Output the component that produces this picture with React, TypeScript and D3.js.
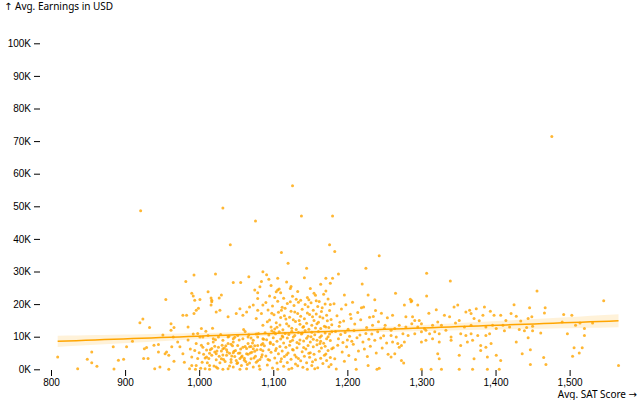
import * as d3 from 'd3';
import { useEffect, useRef } from 'react';

// [avg SAT score, avg earnings in thousand USD]
const lowSat: [number, number][] = [
  [809, 3.8], [836, 0.2], [849, 3.1], [855, 5.3], [855, 2.0], [862, 0.9], [884, 6.9], [885, 0.1],
  [891, 2.8], [898, 3.1], [902, 6.9], [910, 8.6], [920, 14.3], [924, 15.4], [933, 12.8], [926, 6.3],
  [929, 6.7], [925, 3.3], [931, 3.3], [939, 7.4], [945, 7.6], [945, 5.3], [951, 10.5], [954, 4.8],
  [956, 5.3], [959, 4.3], [962, 14.0], [962, 12.0], [965, 9.9], [963, 6.9], [966, 2.5], [947, 0.7],
  [940, 0.2], [959, 0.0], [955, 21.4], [966, 12.8], [971, 8.4], [974, 6.9], [978, 16.6], [983, 16.6],
  [985, 13.0], [990, 23.3], [992, 22.5], [994, 21.2], [1001, 21.4], [993, 17.1], [996, 18.1],
  [999, 18.7], [978, 4.8], [980, 2.2], [990, 3.8], [994, 5.8], [996, 7.9], [998, 11.0], [1001, 9.9],
  [1003, 7.4], [998, 3.3], [996, 1.2], [990, 1.2], [985, 9.0], [988, 6.2], [992, 10.8], [1000, 5.1],
  [1003, 12.5], [1004, 2.2], [1002, 0.3], [987, 0.2], [995, 0.0],
  [921, 48.6], [982, 26.9], [993, 28.9],
];

const nearThousand: [number, number][] = [
  [1017, 20.7], [1016, 19.7],
  [1023, 17.6], [1028, 18.1], [1014, 4.9], [1021, 7.1], [1032, 4.4], [1039, 16.1], [1043, 7.7],
  [1050, 17.1], [1055, 18.6], [1059, 16.6], [1064, 17.6], [1068, 19.1], [1073, 19.7], [1079, 18.1],
  [1084, 17.1], [1086, 19.7], [1077, 15.6], [1070, 7.0], [1064, 6.4], [1055, 3.3], [1046, 5.1],
  [1037, 6.0], [1030, 5.6], [1023, 2.9], [1017, 6.4], [1010, 5.9], [1008, 3.5], [1014, 1.2],
  [1021, 5.3], [1028, 2.0], [1034, 6.5], [1041, 1.0], [1048, 3.9], [1055, 5.0], [1061, 2.8],
  [1068, 1.9], [1075, 5.5], [1082, 3.0], [1086, 13.5],
  [1005, 6.8], [1012, 7.9], [1019, 8.4], [1026, 6.8], [1032, 6.3],
  [1039, 7.9], [1046, 8.4], [1052, 7.3], [1059, 6.8], [1066, 7.9], [1073, 6.3], [1079, 7.3], [1086, 7.9],
  [1010, 3.8], [1017, 4.3], [1023, 4.8], [1030, 3.2], [1037, 4.3], [1043, 2.2],
  [1050, 2.7], [1057, 3.8], [1064, 4.8], [1070, 3.2], [1077, 2.2], [1084, 3.8],
  [1008, 0.2], [1014, 0.0], [1023, 0.7],
  [1032, 0.0], [1039, 0.2], [1046, 0.7], [1055, 0.0], [1064, 0.2], [1073, 0.7], [1082, 0.0],
  [1005, 9.9], [1012, 10.4], [1019, 9.4], [1026, 9.9], [1032, 8.9], [1039, 9.9], [1046, 9.4],
  [1052, 10.4], [1059, 9.4], [1066, 9.9], [1073, 8.9], [1079, 9.9], [1086, 9.4],
  [1041, 4.9], [1044, 4.1], [1047, 5.5], [1049, 5.8], [1052, 2.0], [1054, 9.0], [1056, 6.2],
  [1058, 4.1], [1060, 12.2], [1062, 7.0], [1063, 2.3], [1065, 1.5], [1067, 10.6], [1069, 5.0],
  [1071, 5.2], [1072, 8.1], [1074, 3.5], [1076, 4.0], [1078, 6.0], [1080, 11.0], [1081, 1.0],
  [1083, 6.1], [1085, 4.5], [1087, 9.2], [1045, 7.2], [1051, 1.8], [1057, 1.2], [1061, 3.4],
  [1066, 4.6], [1070, 9.6], [1075, 7.2], [1079, 2.6], [1084, 7.5], [1043, 3.0], [1053, 4.9],
  [1068, 6.9], [1077, 10.8], [1086, 5.7], [1048, 9.8], [1062, 11.6],
  [1006, 4.6], [1009, 11.7], [1011, 2.0], [1013, 3.3], [1015, 6.0],
  [1018, 12.6], [1020, 1.0], [1022, 9.1], [1024, 5.6], [1027, 4.0], [1029, 10.7], [1031, 7.4],
  [1033, 3.0], [1035, 2.4], [1036, 7.2], [1038, 5.3], [1040, 10.1], [1025, 0.3],
  [1012, 23.8], [1016, 21.9], [1017, 21.2], [1022, 29.2], [1027, 21.9], [1030, 22.8],
  [1042, 38.2], [1046, 26.6], [1056, 26.6], [1067, 28.4], [1075, 24.3], [1079, 23.5], [1082, 25.3],
  [1084, 26.9], [1086, 29.9], [1079, 21.7], [1032, 49.5], [1076, 45.5],
];

const denseMiddle: [number, number][] = [
  [1090, 20.5], [1093, 18.2], [1095, 15.1], [1097, 13.0], [1099, 19.4], [1101, 16.7], [1102, 12.4],
  [1104, 14.3], [1106, 20.9], [1107, 17.5], [1109, 13.6], [1110, 15.9], [1112, 19.0], [1113, 12.1],
  [1115, 16.4], [1116, 18.7], [1118, 14.0], [1119, 20.2], [1121, 13.3], [1122, 16.0], [1124, 17.8],
  [1125, 12.6], [1127, 15.2], [1128, 19.6], [1130, 14.7], [1131, 12.2], [1133, 17.1], [1134, 20.6],
  [1136, 13.8], [1137, 16.3], [1139, 18.4], [1140, 12.9], [1142, 15.5], [1143, 19.9], [1145, 14.1],
  [1146, 17.3], [1148, 12.3], [1149, 16.8], [1151, 20.4], [1152, 13.5], [1154, 18.1], [1155, 15.0],
  [1157, 12.7], [1158, 17.0], [1160, 19.3], [1161, 14.4], [1163, 16.1], [1164, 12.5], [1166, 18.9],
  [1167, 15.7], [1169, 13.2], [1170, 20.0], [1172, 16.6], [1173, 14.9], [1175, 12.8], [1176, 18.0],
  [1178, 15.3], [1179, 13.7], [1092, 14.6], [1098, 17.2], [1105, 12.9], [1111, 18.1], [1117, 15.4],
  [1123, 20.7], [1129, 17.6], [1135, 15.0], [1141, 13.1], [1147, 19.2], [1153, 16.1], [1159, 14.0],
  [1165, 17.7], [1171, 13.0], [1177, 19.9],
  [1089, 11.2], [1091, 9.1], [1094, 10.5], [1096, 8.3], [1098, 11.8], [1100, 9.7], [1103, 10.9],
  [1105, 8.6], [1108, 11.5], [1110, 9.3], [1112, 10.2], [1114, 8.1], [1116, 11.0], [1119, 9.6],
  [1121, 10.7], [1123, 8.5], [1125, 11.7], [1127, 9.9], [1129, 10.4], [1132, 8.2], [1134, 11.3],
  [1136, 9.0], [1138, 10.8], [1141, 8.7], [1143, 11.9], [1145, 9.5], [1147, 10.1], [1150, 8.4],
  [1152, 11.4], [1154, 9.2], [1156, 10.6], [1159, 8.9], [1161, 11.6], [1163, 9.8], [1165, 10.3],
  [1168, 8.0], [1170, 11.1], [1172, 9.4], [1174, 10.0], [1177, 8.8], [1179, 11.5], [1101, 11.4],
  [1113, 9.9], [1126, 8.9], [1139, 11.1], [1151, 10.0], [1164, 8.6], [1176, 10.8],
  [1088, 7.2], [1090, 4.1], [1092, 1.3], [1094, 6.0], [1095, 2.8], [1097, 5.2], [1099, 0.4], [1100, 7.6],
  [1102, 3.5], [1104, 6.4], [1105, 1.9], [1107, 4.8], [1109, 7.0], [1110, 2.4], [1112, 5.6], [1114, 0.9],
  [1115, 3.9], [1117, 6.8], [1119, 2.1], [1120, 5.0], [1122, 7.4], [1124, 3.1], [1125, 0.3], [1127, 5.9],
  [1129, 4.4], [1130, 1.6], [1132, 6.6], [1134, 3.3], [1135, 7.8], [1137, 2.6], [1139, 5.4], [1140, 0.6],
  [1142, 4.0], [1144, 6.2], [1145, 2.0], [1147, 7.3], [1149, 3.7], [1150, 5.1], [1152, 1.2], [1154, 6.9],
  [1155, 4.6], [1157, 2.9], [1159, 7.5], [1160, 0.5], [1162, 5.5], [1164, 3.4], [1165, 6.5], [1167, 1.8],
  [1169, 4.3], [1170, 7.1], [1172, 2.7], [1174, 5.8], [1175, 0.8], [1177, 3.6], [1179, 6.3], [1093, 3.0],
  [1103, 5.8], [1111, 3.2], [1118, 4.5], [1126, 6.1], [1133, 1.1], [1141, 6.7], [1148, 4.9], [1156, 0.2],
  [1163, 7.9], [1171, 4.7], [1178, 1.5], [1096, 7.9], [1121, 0.0], [1146, 0.0], [1106, 0.0], [1131, 3.8],
  [1153, 2.3],
  [1091, 29.0], [1094, 27.6], [1106, 27.9], [1142, 28.1], [1171, 27.9], [1180, 27.9], [1177, 26.4],
  [1164, 26.1], [1124, 25.4], [1123, 24.8], [1097, 25.7], [1106, 24.3], [1104, 23.8], [1110, 23.5],
  [1155, 23.3], [1171, 24.0], [1095, 22.5], [1131, 21.5], [1146, 22.0], [1148, 21.3], [1158, 21.0],
  [1145, 31.0], [1120, 32.5], [1111, 35.8], [1176, 38.2], [1183, 36.1], [1188, 29.2],
  [1102, 22.0], [1108, 24.6], [1114, 21.8], [1118, 26.8], [1126, 22.4], [1133, 23.9], [1137, 21.2],
  [1150, 24.8], [1157, 22.7], [1162, 20.8], [1168, 23.0], [1174, 21.6],
  [1126, 56.3], [1138, 47.0], [1180, 47.0],
];

const upperMiddle: [number, number][] = [
  [1182, 20.1], [1186, 16.4], [1189, 13.2], [1192, 18.5], [1195, 14.8], [1198, 19.8], [1201, 12.3],
  [1204, 16.9], [1207, 20.6], [1210, 13.9], [1214, 17.4], [1218, 15.2], [1222, 19.1], [1226, 12.8],
  [1230, 16.0], [1234, 13.5], [1238, 18.0], [1242, 14.6], [1246, 17.2], [1250, 12.5], [1254, 15.8],
  [1184, 11.6], [1188, 9.4], [1191, 10.7], [1194, 8.2], [1197, 11.3], [1200, 9.0], [1203, 10.1],
  [1206, 8.6], [1209, 11.9], [1213, 9.7], [1217, 10.5], [1221, 8.4], [1225, 11.0], [1229, 9.2],
  [1233, 10.8], [1237, 8.9], [1241, 11.5], [1245, 9.6], [1249, 10.3], [1253, 8.1], [1181, 6.6],
  [1183, 3.2], [1187, 7.4], [1190, 14.4], [1193, 5.3], [1196, 2.5], [1199, 6.9], [1202, 4.2], [1205, 15.6],
  [1208, 7.7], [1211, 3.0], [1215, 5.6], [1219, 18.9], [1223, 6.2], [1227, 3.9], [1231, 7.1], [1235, 16.2],
  [1239, 5.0], [1243, 0.3], [1247, 6.5], [1251, 13.5], [1255, 4.6], [1185, 0.1], [1212, 0.0], [1240, 0.0],
  [1228, 1.2],
  [1196, 22.8], [1220, 26.2], [1225, 31.0], [1228, 22.8], [1237, 21.3], [1243, 34.8],
];

const highSat: [number, number][] = [
  [1277, 19.7], [1295, 19.7], [1286, 20.7], [1261, 16.6], [1279, 16.1], [1288, 16.1], [1291, 15.0],
  [1287, 14.0], [1297, 15.0], [1300, 14.0], [1270, 13.5], [1279, 13.0], [1264, 12.5], [1259, 12.0],
  [1295, 13.0], [1304, 12.5], [1315, 13.5], [1322, 14.5], [1327, 13.5], [1331, 16.6], [1338, 16.1],
  [1344, 19.1], [1349, 19.7], [1320, 18.3], [1360, 17.6], [1367, 17.1], [1365, 18.1], [1374, 18.6],
  [1385, 19.1], [1383, 16.6], [1371, 15.6], [1351, 15.0], [1358, 13.0], [1367, 13.5], [1387, 13.0],
  [1396, 13.5], [1401, 12.5], [1398, 16.6], [1407, 16.6], [1414, 15.0], [1421, 17.1], [1419, 13.0],
  [1410, 13.5], [1259, 10.4], [1266, 9.9], [1275, 10.9], [1282, 10.4], [1291, 10.9], [1300, 11.5],
  [1306, 12.0], [1311, 10.9], [1318, 11.5], [1324, 10.9], [1340, 9.9], [1353, 10.9], [1360, 10.4],
  [1367, 10.9], [1376, 10.4], [1387, 10.4], [1392, 10.9], [1261, 8.4], [1268, 7.9], [1273, 7.3],
  [1277, 8.4], [1270, 6.8], [1300, 8.4], [1306, 8.9], [1315, 9.4], [1324, 8.4], [1340, 8.9],
  [1353, 7.3], [1362, 8.4], [1369, 8.9], [1380, 7.3], [1387, 6.8], [1394, 7.9], [1264, 4.8],
  [1259, 3.8], [1273, 2.7], [1276, 1.9], [1322, 4.8], [1324, 3.2], [1351, 4.3], [1371, 3.2],
  [1380, 5.8], [1389, 3.8], [1401, 4.3], [1407, 2.7], [1300, 0.0], [1313, 0.0], [1327, 0.0],
  [1351, 0.0], [1369, 0.0], [1389, 0.0], [1405, 0.0],
  [1310, 17.2], [1333, 12.0], [1346, 14.2], [1378, 14.9], [1393, 17.8], [1412, 11.8], [1425, 19.8],
  [1432, 12.2],
  [1307, 29.5], [1339, 27.1], [1265, 23.3], [1285, 21.5], [1287, 21.0], [1307, 22.5],
];

const topSat: [number, number][] = [
  [1546, 21.0], [1446, 18.9], [1467, 18.9], [1466, 17.3], [1449, 16.1], [1444, 15.6], [1428, 16.3],
  [1492, 16.8], [1503, 16.6], [1434, 14.8], [1490, 14.5], [1514, 14.2], [1531, 14.2], [1508, 13.5],
  [1442, 12.8], [1439, 11.8], [1450, 13.2], [1450, 11.8], [1461, 11.1], [1497, 10.9], [1520, 12.5],
  [1520, 10.4], [1444, 9.7], [1428, 8.4], [1447, 6.0], [1436, 4.8], [1506, 6.6], [1517, 6.6],
  [1513, 5.0], [1504, 4.0], [1465, 3.6], [1447, 1.5], [1468, 1.5], [1566, 1.2],
  [1456, 24.0], [1476, 71.4],
];

const yTicks = [0, 10, 20, 30, 40, 50, 60, 70, 80, 90, 100];
const xTicks = [800, 900, 1000, 1100, 1200, 1300, 1400, 1500];

const width = 640;
const height = 400;
const color = 'orange';
const arrowFont = "'DejaVu Sans', sans-serif";

export default function App() {
  const ref = useRef<SVGSVGElement>(null);

  useEffect(() => {
    const data = [...lowSat, ...nearThousand, ...denseMiddle, ...upperMiddle, ...highSat, ...topSat];
    const svg = d3.select(ref.current);
    svg.selectAll('*').remove();

    const x = d3.scaleLinear().domain([800, 1568]).range([51, 620]);
    const y = d3.scaleLinear().domain([0, 100]).range([369.3, 43.3]);

    // x axis
    const gx = svg
      .append('g')
      .attr('transform', 'translate(0,370)')
      .call(d3.axisBottom(x).tickValues(xTicks).tickSize(6).tickFormat(d3.format(',')));
    gx.select('.domain').remove();
    gx.selectAll('text').attr('font-size', 10).attr('fill', '#000');

    const xLabel = svg
      .append('text')
      .attr('x', 637)
      .attr('y', 398)
      .attr('text-anchor', 'end')
      .attr('font-size', 10);
    xLabel.append('tspan').text('Avg. SAT Score ');
    xLabel.append('tspan').attr('font-family', arrowFont).text('→');

    // y axis
    const gy = svg
      .append('g')
      .attr('transform', 'translate(40,0)')
      .call(
        d3
          .axisRight(y)
          .tickValues(yTicks)
          .tickSize(6)
          .tickFormat((d) => d + 'K')
      );
    gy.select('.domain').remove();
    gy.selectAll('.tick line').attr('x1', -6).attr('x2', 0);
    gy.selectAll('.tick text').attr('x', -9).attr('text-anchor', 'end').attr('font-size', 10).attr('fill', '#000');

    const yLabel = svg.append('text').attr('x', 4).attr('y', 10).attr('font-size', 10);
    yLabel.append('tspan').attr('font-family', arrowFont).text('↑');
    yLabel.append('tspan').text(' Avg. Earnings in USD');

    // dots
    svg
      .append('g')
      .selectAll('circle')
      .data(data)
      .join('circle')
      .attr('cx', (d) => x(d[0]))
      .attr('cy', (d) => y(d[1]))
      .attr('r', 1.5)
      .attr('fill', color)
      .attr('fill-opacity', 0.8);

    // linear regression with 95% band
    const n = data.length;
    const mx = d3.mean(data, (d) => d[0]) as number;
    const my = d3.mean(data, (d) => d[1]) as number;
    const sxx = d3.sum(data, (d) => (d[0] - mx) ** 2);
    const sxy = d3.sum(data, (d) => (d[0] - mx) * (d[1] - my));
    const slope = sxy / sxx;
    const intercept = my - slope * mx;
    const sse = d3.sum(data, (d) => (d[1] - (intercept + slope * d[0])) ** 2);
    const s = Math.sqrt(sse / (n - 2));
    const [x0, x1] = d3.extent(data, (d) => d[0]) as [number, number];
    const xs = d3.range(x0, x1 + 1, (x1 - x0) / 60);
    const band = xs.map((v) => {
      const fit = intercept + slope * v;
      const se = 1.96 * s * Math.sqrt(1 / n + (v - mx) ** 2 / sxx);
      return { v, fit, lo: fit - se, hi: fit + se };
    });

    svg
      .append('path')
      .datum(band)
      .attr('fill', color)
      .attr('fill-opacity', 0.15)
      .attr(
        'd',
        d3
          .area<{ v: number; lo: number; hi: number }>()
          .x((d) => x(d.v))
          .y0((d) => y(d.lo))
          .y1((d) => y(d.hi))
      );

    svg
      .append('path')
      .datum(band)
      .attr('fill', 'none')
      .attr('stroke', color)
      .attr('stroke-width', 1.5)
      .attr(
        'd',
        d3
          .line<{ v: number; fit: number }>()
          .x((d) => x(d.v))
          .y((d) => y(d.fit))
      );
  }, []);

  return (
    <svg
      ref={ref}
      width={width}
      height={height}
      fontFamily="'Noto Sans', sans-serif"
      style={{ position: 'absolute', left: 0, top: 0, background: '#fff' }}
    />
  );
}
